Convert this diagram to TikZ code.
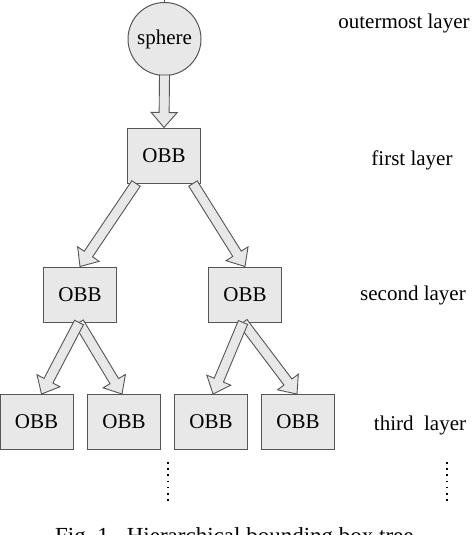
\documentclass[tikz,border=0pt]{standalone}
\usepackage{fontspec}
\setmainfont{Liberation Serif}
\usetikzlibrary{calc}
\definecolor{boxfill}{RGB}{232,232,232}
\definecolor{boxline}{RGB}{85,85,85}
\tikzset{
  obb/.style={draw=boxline, line width=1pt, fill=boxfill, minimum width=73pt, minimum height=55pt, inner sep=0pt, font=\fontsize{21}{25}\selectfont, text=black},
  spherenode/.style={circle, draw=boxline, line width=1pt, fill=boxfill, minimum size=73pt, inner sep=0pt, font=\fontsize{21}{25}\selectfont},
  layerlabel/.style={font=\fontsize{21}{25}\selectfont, inner sep=0pt, anchor=base},
  blockarrow/.style={draw=boxline, line width=0.9pt, fill=boxfill, line join=miter},
  dotline/.style={line width=1.6pt, dash pattern=on 1.6pt off 4.6pt, black}
}
% #1 start coordinate, #2 tip coordinate
\newcommand\hollowarrow[2]{%
  \coordinate (bh) at ($(#2)!15pt!(#1)$);
  \draw[blockarrow] ($(#1)!5pt!90:(#2)$) -- ($(bh)!5pt!-90:(#1)$) -- ($(bh)!13pt!-90:(#1)$) -- (#2)
     -- ($(bh)!13pt!90:(#1)$) -- ($(bh)!5pt!90:(#1)$) -- ($(#1)!5pt!-90:(#2)$) -- cycle;%
}
\begin{document}
\begin{tikzpicture}[x=1pt,y=-1pt]
\useasboundingbox (0,0) rectangle (474,535);
\fill[white] (0,0) rectangle (474,535);

% nodes
\node[spherenode] (sph) at (164.5,39) {sphere};
\coordinate (top) at (164.5,0);
\node[obb] (l1) at (164,155.5) {OBB};
\node[obb] (l2a) at (80,294.5) {OBB};
\node[obb] (l2b) at (245,294.5) {OBB};
\node[obb] (l3a) at (36.5,422) {OBB};
\node[obb] (l3b) at (124,422) {OBB};
\node[obb] (l3c) at (211,422) {OBB};
\node[obb] (l3d) at (298,422) {OBB};

% stub above sphere
\draw[boxline, line width=1.5pt] (top) -- (sph.north);

% arrows
\coordinate (s0) at ($(sph.south)+(0,-1)$);
\hollowarrow{s0}{l1.north}
\coordinate (s1) at ($(l1.south)+(-28,0)$);
\coordinate (s2) at ($(l1.south)+(29,0)$);
\hollowarrow{s1}{l2a.north}
\hollowarrow{s2}{l2b.north}
\coordinate (s3) at ($(l2a.south)+(-1,0)$);
\coordinate (t3a) at ($(l3a.north)+(5,0)$);
\coordinate (t3b) at ($(l3b.north)+(-2,0)$);
\hollowarrow{s3}{t3b}
\hollowarrow{s3}{t3a}
\coordinate (s4) at ($(l2b.south)+(-2,0)$);
\coordinate (t4a) at ($(l3c.north)+(2,0)$);
\coordinate (t4b) at ($(l3d.north)+(-1,0)$);
\hollowarrow{s4}{t4b}
\hollowarrow{s4}{t4a}

% layer labels
\node[layerlabel] (lab0) at (404,29) {outermost layer};
\node[layerlabel] (lab1) at (412,165) {first layer};
\node[layerlabel] (lab2) at (413,300) {second layer};
\node[layerlabel] (lab3) at (420,430) {third\ \ layer};

% continuation dots
\coordinate (d1a) at (168,462);
\coordinate (d1b) at (168,502);
\coordinate (d2a) at (447,462);
\coordinate (d2b) at (447,502);
\draw[dotline] (d1a) -- (d1b);
\draw[dotline] (d2a) -- (d2b);

% caption (cut by the page edge)
\node[anchor=base west, inner sep=0pt, font=\fontsize{23}{27}\selectfont] (cap) at (55,543) {Fig.~1\hspace{18pt}Hierarchical bounding box tree};
\end{tikzpicture}
\end{document}
